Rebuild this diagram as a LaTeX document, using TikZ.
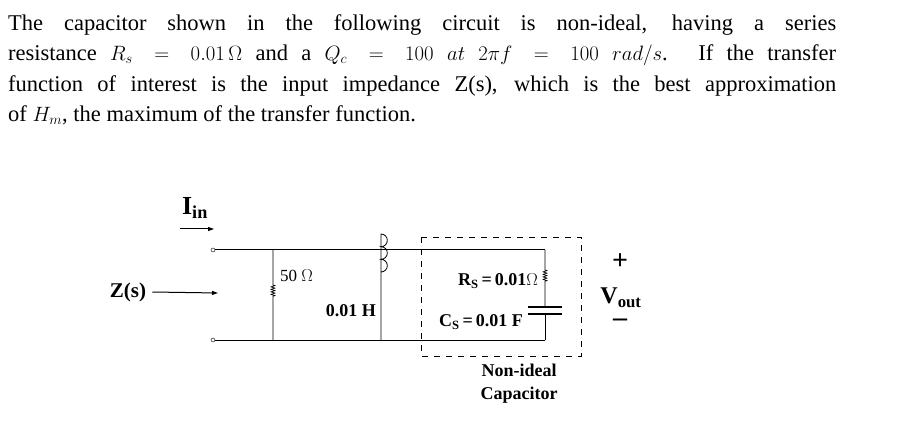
\documentclass[tikz,border=0pt]{standalone}
\usepackage{fontspec}
\setmainfont{Liberation Serif}
\usetikzlibrary{decorations.pathmorphing,arrows.meta}
\begin{document}
\begin{tikzpicture}[x=1pt,y=-1pt,
  wire/.style={line width=1pt},
  lbl/.style={font=\bfseries\fontsize{18}{20}\selectfont,inner sep=0pt},
  term/.style={circle,draw,inner sep=0pt,minimum size=4pt,fill=white},
  arr/.style={-{Triangle[length=6pt,width=4pt]},line width=1pt}]
\useasboundingbox (0,0) rectangle (901,427);
\node[anchor=north west,inner sep=0pt,text width=828pt,align=justify,font=\fontsize{22.5}{30.5}\selectfont] (txt) at (8,14)
{The capacitor shown in the following circuit is non-ideal, having a series\linebreak
resistance $R_s = 0.01\,\Omega$ and a $Q_c = 100\ at\ 2\pi f = 100\ rad/s$. If the transfer\linebreak
function of interest is the input impedance Z(s), which is the best approximation\linebreak
of $H_m$, the maximum of the transfer function.\par};
% terminals
\node[term] (t1) at (213,250) {};
\node[term] (t2) at (213,340) {};
\coordinate (ra) at (273,250); \coordinate (rb) at (273,340);
\coordinate (la) at (381,250); \coordinate (lb) at (381,340);
\coordinate (ca) at (545,250); \coordinate (cb) at (545,340);
\draw[wire] (t1) -- (ca); \draw[wire] (t2) -- (cb);
\draw[line width=0.7pt] (ra) -- (273,285) decorate[decoration={zigzag,segment length=2.5pt,amplitude=1.8pt}]{--(273,297)} -- (rb);
\draw[line width=0.8pt] (la) -- (381,272) arc(90:-90:6.33) arc(90:-90:6.33) arc(90:-90:6.33) -- (lb);
\draw[line width=0.7pt] (ca) -- (545,270) decorate[decoration={zigzag,segment length=2.5pt,amplitude=1.8pt}]{--(545,282)} -- (545,307);
\draw[line width=2pt] (528,307) -- (562,307) (528,314) -- (562,314);
\draw[wire] (545,314) -- (cb);
\draw[line width=0.7pt,dash pattern=on 6pt off 6pt] (421,237) rectangle (581,356);
% labels
\node[lbl,font=\bfseries\fontsize{26}{28}\selectfont] (iin) at (195,208) {I\textsubscript{in}};
\coordinate (ia) at (180,229); \coordinate (ib) at (214,229);
\draw[arr] (ia) -- (ib);
\node[lbl,font=\bfseries\fontsize{21}{23}\selectfont] (zs) at (128,292) {Z(s)};
\coordinate (za) at (218,293);
\draw[arr] (zs.east) ++(6,0) -- (za);
\node[lbl,font=\fontsize{17}{19}\selectfont,anchor=west] at (280,276) {50 $\Omega$};
\node[lbl,anchor=east] at (376,311) {0.01 H};
\node[lbl,anchor=east] at (538,281) {R\textsubscript{S}\,=\,0.01$\Omega$};
\node[lbl,anchor=east] at (523,322) {C\textsubscript{S}\,=\,0.01 F};
\node[lbl,font=\bfseries\fontsize{28}{28}\selectfont] at (620,262) {+};
\node[lbl,font=\bfseries\fontsize{24}{26}\selectfont] at (621,298) {V\textsubscript{out}};
\node[lbl,font=\bfseries\fontsize{28}{28}\selectfont] at (620,323) {\textendash};
\node[lbl,font=\bfseries\fontsize{18}{20}\selectfont] at (519,370) {Non-ideal};
\node[lbl,font=\bfseries\fontsize{18}{20}\selectfont] at (519,395) {Capacitor};
\end{tikzpicture}
\end{document}
